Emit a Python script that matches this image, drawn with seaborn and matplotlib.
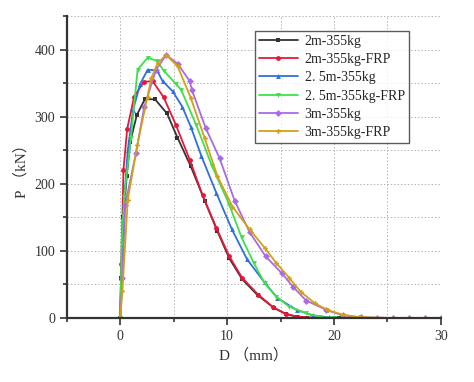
import numpy as np
import pandas as pd
import seaborn as sns
import matplotlib.pyplot as plt
from matplotlib.ticker import MultipleLocator

sns.set_style("white")
plt.rcParams["font.family"] = ["Liberation Serif", "Noto Sans CJK SC"]

# data (D in mm, P in kN)
x_2m = [0, 0.07, 0.3, 0.6, 0.94, 1.56, 2.3, 3.25, 4.37, 5.35, 6.6, 7.9, 9.1, 10.2, 11.4, 12.85, 14.4, 15.5, 16.5, 17.5, 19, 20.5]
p_2m = [0, 60, 150, 211, 263, 303, 326, 326, 305, 269, 226, 175, 129, 89, 58, 34, 15, 6, 2, 0.5, 0, 0]

x_2m_frp = [0, 0.1, 0.3, 0.65, 1.3, 2.2, 3.03, 4.06, 5.2, 6.5, 7.7, 9.0, 10.2, 11.4, 12.9, 14.3, 15.5, 16.6, 18, 20]
p_2m_frp = [0, 80, 221, 282, 330, 352, 353, 329, 288, 236, 183, 134, 92, 60, 35, 16, 6, 2, 0.5, 0]

x_25m = [0, 0.1, 0.35, 0.7, 1.2, 1.87, 2.56, 3.44, 3.96, 4.9, 5.8, 6.6, 7.6, 9.0, 10.45, 11.85, 13.5, 14.7, 16.5, 18, 19.5, 21]
p_25m = [0, 60, 170, 250, 310, 349, 370, 369, 353, 338, 315, 285, 241, 186, 132, 88, 53, 30, 12, 4, 1, 0]

x_25m_frp = [0, 0.13, 0.37, 1.0, 1.62, 2.56, 3.44, 4.1, 5.2, 5.7, 7.1, 8.6, 10.2, 11.35, 12.5, 13.5, 14.6, 15.8, 17.4, 18.7, 20, 22]
p_25m_frp = [0, 112, 181, 269, 370, 388, 383, 368, 349, 340, 288, 226, 169, 120, 82, 52, 32, 17, 7, 1.5, 0.5, 0]

x_3m = [0, 0.2, 0.47, 1.47, 2.25, 3.35, 4.3, 5.37, 6.5, 6.7, 8.0, 9.3, 10.7, 12.1, 13.6, 15.1, 16.2, 17.4, 19.3, 20.8, 22.5, 24, 25.5, 27, 28.5, 30]
p_3m = [0, 60, 169, 246, 315, 370, 392, 379, 353, 340, 283, 238, 175, 128, 92, 67, 46, 26, 12, 4, 1, 0.5, 0, 0, 0, 0]

x_3m_frp = [0, 0.2, 0.7, 1.6, 2.55, 2.9, 3.5, 4.3, 5.37, 6.6, 7.9, 9.1, 10.5, 12.1, 13.5, 14.6, 15.8, 16.9, 18.2, 19.4, 20.8, 22.3, 24, 25.5, 27, 28.5, 30]
p_3m_frp = [0, 40, 176, 258, 330, 357, 380, 392, 375, 328, 268, 211, 166, 132, 105, 82, 60, 39, 22, 12, 5, 1.5, 0.5, 0, 0, 0, 0]

series = [
    ("2m-355kg", x_2m, p_2m, "#333333", "s"),
    ("2m-355kg-FRP", x_2m_frp, p_2m_frp, "#e8173a", "o"),
    ("2. 5m-355kg", x_25m, p_25m, "#2f6fe0", "^"),
    ("2. 5m-355kg-FRP", x_25m_frp, p_25m_frp, "#3fe04a", "v"),
    ("3m-355kg", x_3m, p_3m, "#a86be8", "D"),
    ("3m-355kg-FRP", x_3m_frp, p_3m_frp, "#d4a017", "P"),
]

fig = plt.figure(figsize=(4.74, 3.82), dpi=100)
ax = fig.add_axes([0.141, 0.1675, 0.789, 0.7905])

for name, xs, ps, color, marker in series:
    df = pd.DataFrame({"D": xs, "P": ps})
    sns.lineplot(data=df, x="D", y="P", ax=ax, color=color, marker=marker,
                 markersize=3.5, markeredgewidth=0, linewidth=1.3, label=name,
                 sort=False)

ax.set_xlim(-5, 30)
ax.set_ylim(0, 450)
ax.xaxis.set_major_locator(MultipleLocator(10))
ax.xaxis.set_minor_locator(MultipleLocator(5))
ax.yaxis.set_major_locator(MultipleLocator(100))
ax.yaxis.set_minor_locator(MultipleLocator(50))
ax.grid(True, which="both", linestyle=(0, (1.5, 2)), color="#b4b4b4", linewidth=0.7)

for s in ["top", "right"]:
    ax.spines[s].set_visible(False)
for s in ["left", "bottom"]:
    ax.spines[s].set_color("#333333")
    ax.spines[s].set_linewidth(1.6)
ax.tick_params(which="both", direction="out", color="#333333", width=1.2, labelsize=10, labelcolor="#333333")
ax.tick_params(which="major", length=5, left=True, bottom=True)
ax.tick_params(which="minor", length=3, left=True, bottom=True)

ax.set_xlabel("D （mm）", fontsize=11, color="#333333")
ax.set_ylabel("P （kN）", fontsize=11, color="#333333")

leg = ax.legend(loc="upper right", bbox_to_anchor=(0.933, 0.975), fontsize=10,
                frameon=True, fancybox=False, handlelength=2.8, labelspacing=0.38,
                borderpad=0.3, handletextpad=0.5)
leg.get_frame().set_edgecolor("#333333")
leg.get_frame().set_linewidth(1.0)

fig.savefig("out.png", dpi=100)
